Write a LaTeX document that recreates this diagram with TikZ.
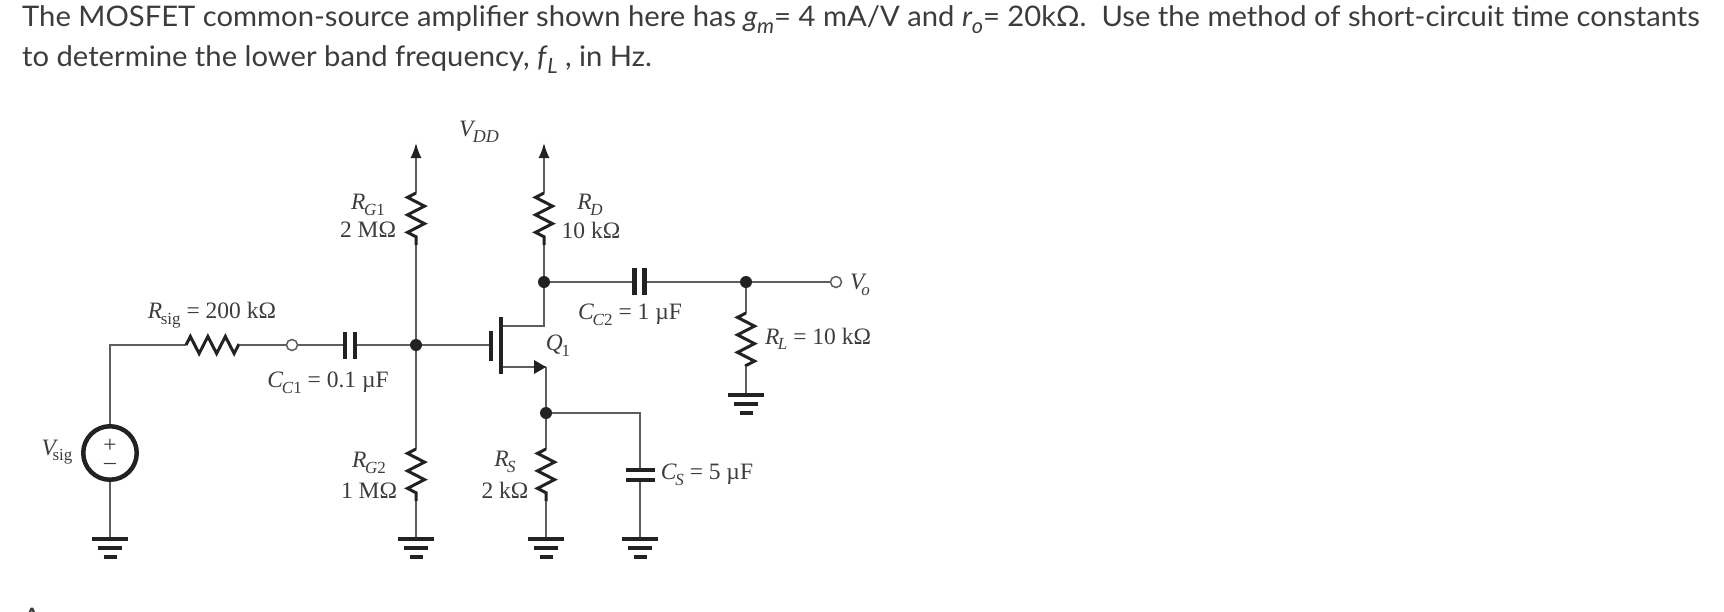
\documentclass[tikz,border=0pt]{standalone}
\usepackage{fontspec}
\setmainfont{Lato}[FakeStretch=1.03]
\newfontfamily\circfont{Liberation Serif}
\usetikzlibrary{decorations.pathmorphing}
\usetikzlibrary{arrows.meta}
\usetikzlibrary{calc}
\definecolor{wiregray}{HTML}{5E5E5E}
\definecolor{inkblack}{HTML}{222222}
\definecolor{textgray}{HTML}{3C3C3C}
\tikzset{wire/.style={draw=wiregray,line width=1.5pt}}
\tikzset{plate/.style={draw=inkblack,line width=4.5pt}}
\tikzset{res/.style={draw=inkblack,line width=3pt,decorate,decoration={zigzag,amplitude=8.5pt,segment length=17.5pt}}}
\tikzset{vres/.style={res,decoration={zigzag,amplitude=8.5pt,segment length=17.5pt,mirror}}}
\tikzset{dot/.style={circle,fill=inkblack,inner sep=0pt,minimum size=12pt}}
\tikzset{open/.style={circle,draw=wiregray,fill=white,line width=1.5pt,inner sep=0pt,minimum size=11pt}}
\tikzset{l/.style={font=\circfont\fontsize{23.5}{23.5}\selectfont,text=textgray,inner sep=0pt}}
\tikzset{q/.style={font=\fontsize{28.35}{28.35}\selectfont,text=textgray,inner sep=0pt,anchor=base west}}
\tikzset{tip/.style={-{Latex[length=15pt,width=11pt,color=inkblack]}}}
\newcommand{\gnd}[1]{
  \draw[plate] ($(#1)+(-18,0)$) -- ($(#1)+(18,0)$);
  \draw[plate] ($(#1)+(-12,9)$) -- ($(#1)+(12,9)$);
  \draw[plate] ($(#1)+(-6.5,18)$) -- ($(#1)+(6.5,18)$);
}
\newcommand{\sym}[2]{\textit{#1}\kern-0.06em\raisebox{-0.24em}{\fontsize{17}{17}\selectfont #2}}
\newcommand{\qsub}[1]{\kern-0.02em\raisebox{-0.26em}{\fontsize{21}{21}\selectfont\textit{#1}}}
\begin{document}
\begin{tikzpicture}[x=1pt,y=-1pt]
  \useasboundingbox (0,0) rectangle (1724,611);
  \clip (0,0) rectangle (1724,611);
  % question text
  \node[q] (line1) at (22,26) {The MOSFET common-source amplifier shown here has \textit{g}\qsub{m}= 4 mA/V and \textit{r}\qsub{o}= 20kΩ.\ \ Use the method of short-circuit time constants};
  \node[q] (line2) at (22,66) {to determine the lower band frequency, \textit{f}\qsub{L} , in Hz.};
  \node[q] (cutoff) at (22,628) {A};
  % nodes
  \coordinate (sigtop) at (110,345);
  \node[circle,draw=inkblack,line width=4.5pt,inner sep=0pt,minimum size=53.5pt] (vsig) at (110,453) {};
  \coordinate (gndsig) at (110,539);
  \coordinate (rsigl) at (186,345);
  \coordinate (rsigr) at (239,345);
  \node[open] (vin) at (292,345) {};
  \coordinate (cc1l) at (345,345);
  \coordinate (cc1r) at (355,345);
  \node[dot] (gate) at (416,345) {};
  \coordinate (vddl) at (416,143);
  \coordinate (rg1t) at (416,193);
  \coordinate (rg1b) at (416,245);
  \coordinate (rg2t) at (416,449);
  \coordinate (rg2b) at (416,501);
  \coordinate (gndg) at (416,539);
  \coordinate (vddr) at (544,143);
  \coordinate (rdt) at (544,193);
  \coordinate (rdb) at (544,245);
  \node[dot] (drain) at (544,282) {};
  \coordinate (dturn) at (544,326);
  \coordinate (plate) at (491,345);
  \coordinate (chd) at (501,326);
  \coordinate (chs) at (501,367);
  \coordinate (sturn) at (546,367);
  \node[dot] (src) at (546,413) {};
  \coordinate (rst) at (546,449);
  \coordinate (rsb) at (546,501);
  \coordinate (gnds) at (546,539);
  \coordinate (csturn) at (640,413);
  \coordinate (cst) at (640,470);
  \coordinate (csb) at (640,480);
  \coordinate (gndc) at (640,539);
  \coordinate (cc2l) at (634.5,282);
  \coordinate (cc2r) at (644.5,282);
  \node[dot] (load) at (746,282) {};
  \coordinate (rlt) at (746,313);
  \coordinate (rlb) at (746,366);
  \coordinate (gndl) at (746,395);
  \node[open] (vout) at (836,282) {};
  % wires
  \draw[wire] (vsig) -- (sigtop) -- (rsigl);
  \draw[wire] (vsig) -- (gndsig);
  \draw[wire] (rsigr) -- (vin) -- (cc1l);
  \draw[wire] (cc1r) -- (gate) -- (plate);
  \draw[wire] (gate) -- (rg1b);
  \draw[wire] (gate) -- (rg2t);
  \draw[wire] (rg2b) -- (gndg);
  \draw[wire,tip] (rg1t) -- (vddl);
  \draw[wire,tip] (rdt) -- (vddr);
  \draw[wire] (rdb) -- (drain) -- (dturn) -- (chd);
  \draw[wire] (drain) -- (cc2l);
  \draw[wire] (cc2r) -- (load) -- (vout);
  \draw[wire] (load) -- (rlt);
  \draw[wire] (rlb) -- (gndl);
  \draw[wire] (sturn) -- (src) -- (rst);
  \draw[wire] (rsb) -- (gnds);
  \draw[wire] (src) -- (csturn) -- (cst);
  \draw[wire] (csb) -- (gndc);
  \draw[wire] (chs) -- (sturn);
  \fill[inkblack] (sturn) -- ++(-12,-7) -- ++(0,14) -- cycle;
  % resistors
  \draw[res] (rsigl) -- (rsigr);
  \draw[vres] (rg1t) -- (rg1b);
  \draw[vres] (rg2t) -- (rg2b);
  \draw[vres] (rdt) -- (rdb);
  \draw[vres] (rst) -- (rsb);
  \draw[vres] (rlt) -- (rlb);
  % capacitors and mosfet
  \draw[plate] (345,332) -- (345,359);
  \draw[plate] (355,332) -- (355,359);
  \draw[plate] (634.5,268) -- (634.5,295);
  \draw[plate] (644.5,268) -- (644.5,295);
  \draw[plate] (626,470) -- (655,470);
  \draw[plate] (626,480) -- (655,480);
  \draw[plate] (491,331) -- (491,361);
  \draw[plate] (501,317) -- (501,374);
  \gnd{gndsig}
  \gnd{gndg}
  \gnd{gnds}
  \gnd{gndc}
  \gnd{gndl}
  % labels
  \node[l] (vddlab) at (479,132) {\textit{V}\kern-0.12em\raisebox{-0.24em}{\fontsize{18}{18}\selectfont\textit{DD}}};
  \node[l] (rg1lab) at (368,205) {\sym{R}{\textit{G}1}};
  \node[l] (rg1val) at (368,230) {2 MΩ};
  \node[l] (rdlab) at (590,205) {\sym{R}{\textit{D}}};
  \node[l] (rdval) at (591,230) {10 kΩ};
  \node[l] (rsiglab) at (212,315) {\sym{R}{sig} = 200 kΩ};
  \node[l] (cc1lab) at (328,383) {\sym{C}{\textit{C}1} = 0.1 µF};
  \node[l] (cc2lab) at (630,315) {\sym{C}{\textit{C}2} = 1 µF};
  \node[l] (q1lab) at (558,346) {\sym{Q}{1}};
  \node[l] (rllab) at (818,339) {\sym{R}{\textit{L}} = 10 kΩ};
  \node[l] (vsiglab) at (57,452) {\sym{V\kern-0.08em}{sig}};
  \node[l] (vplus) at (110,446) {+};
  \node[l] (vminus) at (110,466) {–};
  \node[l] (rg2lab) at (369,463) {\sym{R}{\textit{G}2}};
  \node[l] (rg2val) at (369,491) {1 MΩ};
  \node[l] (rslab) at (505,462) {\sym{R}{\textit{S}}};
  \node[l] (rsval) at (505,490) {2 kΩ};
  \node[l] (cslab) at (707,475) {\sym{C}{\textit{S}} = 5 µF};
  \node[l] (volab) at (860,285) {\sym{V\kern-0.08em}{\textit{o}}};
\end{tikzpicture}
\end{document}
